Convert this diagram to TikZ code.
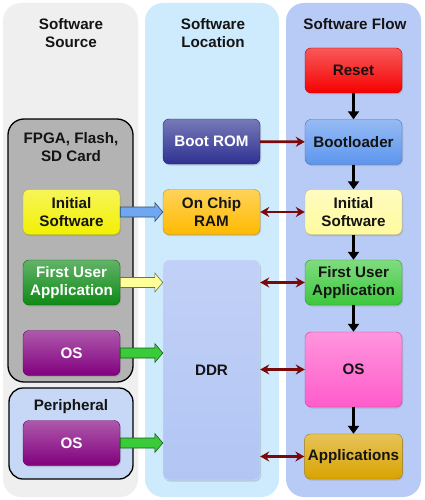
\documentclass[tikz,border=0pt]{standalone}
\usepackage{fontspec}
\setmainfont{Liberation Sans}
\usetikzlibrary{calc,shadows,arrows.meta}
\definecolor{colA}{HTML}{EFEFEF}
\definecolor{colB}{HTML}{CDEBFC}
\definecolor{colC}{HTML}{B8CAF6}
\definecolor{grayb}{HTML}{B3B3B3}
\definecolor{perib}{HTML}{C6D8F6}
\definecolor{cYel}{HTML}{F2F000}
\definecolor{cDGreen}{HTML}{0E8A16}
\definecolor{cPurp}{HTML}{82007E}
\definecolor{cNavy}{HTML}{2E3192}
\definecolor{cOrange}{HTML}{FFBA00}
\definecolor{cDDR}{HTML}{B2C5F4}
\definecolor{cRed}{HTML}{F50000}
\definecolor{cBoot}{HTML}{5D96EE}
\definecolor{cLYel}{HTML}{FFFA9E}
\definecolor{cLGreen}{HTML}{3CC83C}
\definecolor{cPink}{HTML}{FF5CCB}
\definecolor{cGold}{HTML}{D9A300}
\definecolor{cDRed}{HTML}{7A0A0A}
\definecolor{cBlueArr}{HTML}{6FA8F0}
\definecolor{cYelArr}{HTML}{FFFF99}
\definecolor{cGrnArr}{HTML}{3ACB3A}
\definecolor{txt}{HTML}{141414}
\tikzset{
  bx/.style={rounded corners=6pt, minimum width=97pt, minimum height=45pt,
    align=center, font=\bfseries\fontsize{15.2}{18}\selectfont, text=txt,
    draw=#1!75!black, line width=0.4pt, top color=#1!65!white, bottom color=#1,
    drop shadow={shadow xshift=1pt, shadow yshift=-1.5pt, opacity=0.3}},
  wbx/.style={bx=#1, text=white},
  hdr/.style={align=center, font=\bfseries\fontsize{15.2}{18}\selectfont, text=txt},
  blkarr/.style={draw=black, line width=3.5pt, -{Triangle[width=11pt,length=8pt]}},
  redarr/.style={draw=cDRed, line width=2.8pt, -{Stealth[length=9pt,width=10pt]}},
  redarrd/.style={draw=cDRed, line width=2.8pt, {Stealth[length=9pt,width=10pt]}-{Stealth[length=9pt,width=10pt]}},
}
\newcommand\fatarrow[3]{%
  \path[fill=#3, draw=#3!45!black, line width=0.6pt]
    let \p1=(#1.east), \p2=(#2.west |- #1.east) in
    (\x1,\y1+5pt) -- (\x2-8pt,\y1+5pt) -- (\x2-8pt,\y1+9.5pt) -- (\x2,\y1)
    -- (\x2-8pt,\y1-9.5pt) -- (\x2-8pt,\y1-5pt) -- (\x1,\y1-5pt) -- cycle;}
\begin{document}
\begin{tikzpicture}[x=1pt,y=-1pt]
\useasboundingbox (0,0) rectangle (425,500);
\fill[white] (0,0) rectangle (425,500);
% columns
\fill[colA, rounded corners=18pt] (3,3) rectangle (138,497);
\fill[colB, rounded corners=18pt] (145,3) rectangle (279,497);
\fill[colC, rounded corners=18pt] (286,3) rectangle (421,497);
\node[hdr] (h1) at (71,33) {Software\\Source};
\node[hdr] (h2) at (213,33) {Software\\Location};
\node[hdr] (h3) at (355,24) {Software Flow};
% group boxes
\draw[fill=grayb, line width=1.3pt, rounded corners=16pt] (8,119) rectangle (133,382);
\node[hdr] (g1) at (71,147) {FPGA, Flash,\\SD Card};
\draw[fill=perib, line width=1.3pt, rounded corners=14pt] (9,388) rectangle (133,479);
\node[hdr] (g2) at (71,407) {Peripheral};
% left boxes
\node[bx=cYel] (ls1) at (71.5,212) {Initial\\Software};
\node[wbx=cDGreen] (ls2) at (71.5,282.5) {First User\\Application};
\node[wbx=cPurp] (ls3) at (71.5,353) {OS};
\node[wbx=cPurp] (ls4) at (71.5,443) {OS};
% middle boxes
\node[wbx=cNavy] (m1) at (211.5,141.5) {Boot ROM};
\node[bx=cOrange] (m2) at (211.5,212) {On Chip\\RAM};
\node[bx=cDDR, minimum height=220pt, draw=white!50!cDDR, top color=cDDR!80!white] (m3) at (211.5,370) {DDR};
% right boxes
\node[bx=cRed] (r1) at (353.5,70.5) {Reset};
\node[bx=cBoot] (r2) at (353.5,142) {Bootloader};
\node[bx=cLYel] (r3) at (353.5,212) {Initial\\Software};
\node[bx=cLGreen] (r4) at (353.5,282.5) {First User\\Application};
\node[bx=cPink, minimum height=75pt] (r5) at (353.5,369.5) {OS};
\node[bx=cGold] (r6) at (353.5,456.5) {Applications};
% flow arrows
\draw[blkarr] (r1) -- (r2);
\draw[blkarr] (r2) -- (r3);
\draw[blkarr] (r3) -- (r4);
\draw[blkarr] (r4) -- (r5);
\draw[blkarr] (r5) -- (r6);
% location arrows
\draw[redarr] (m1) -- (r2);
\draw[redarrd] (m2) -- (r3);
\draw[redarrd] (m3.east |- r4) -- (r4.west);
\draw[redarrd] (m3.east |- r5) -- (r5.west);
\draw[redarrd] (m3.east |- r6) -- (r6.west);
% source arrows
\fatarrow{ls1}{m2}{cBlueArr}
\fatarrow{ls2}{m3}{cYelArr}
\fatarrow{ls3}{m3}{cGrnArr}
\fatarrow{ls4}{m3}{cGrnArr}
\end{tikzpicture}
\end{document}
